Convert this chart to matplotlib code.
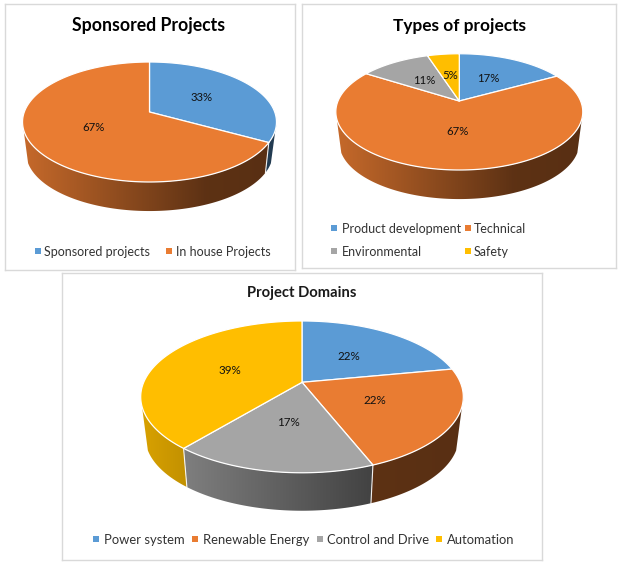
import numpy as np
import matplotlib
matplotlib.use("Agg")
import matplotlib.pyplot as plt
from matplotlib.colors import to_rgb
from matplotlib.patches import PathPatch
from matplotlib.path import Path

W, H = 627, 565
BLUE, ORANGE, GREY, YELLOW = "#5B9BD5", "#E97C32", "#A5A5A5", "#FFBE00"
plt.rcParams["font.family"] = ["Lato", "DejaVu Sans"]

sponsored_names = ["Sponsored projects", "In house Projects"]
sponsored_values = [33, 67]
sponsored_colors = [BLUE, ORANGE]

type_names = ["Product development", "Technical", "Environmental", "Safety"]
type_values = [17, 67, 11, 5]
type_colors = [BLUE, ORANGE, GREY, YELLOW]

domain_names = ["Power system", "Renewable Energy", "Control and Drive", "Automation"]
domain_values = [22, 22, 17, 39]
domain_colors = [BLUE, ORANGE, GREY, YELLOW]


def project(theta, cx, cy, A, B, k, r=1.0):
    """Perspective view of a point on a flat disc; theta runs clockwise from 12 o'clock."""
    u, v = r * np.sin(theta), r * np.cos(theta)
    w = 1 + k * v
    return cx + A * u / w, cy - B * v / w


def rim_image(hex_color, n=400):
    """One-row gradient for a slice's rim: light at the left, dark from about 70% across."""
    f = np.linspace(0, 1, n)
    s = np.interp(f, [0.0, 0.72, 1.0], [0.85, 0.40, 0.38])
    return (np.array(to_rgb(hex_color))[None, None, :] * s[None, :, None]).clip(0, 1)


def draw_pie(ax, values, colors, cx, cy, A, B, k, depth, label_size):
    total = sum(values)
    edges = np.cumsum([0] + list(values)) / total * 2 * np.pi
    taper = 0.972
    half = A / np.sqrt(1 - k * k)
    xlim, ylim = ax.get_xlim(), ax.get_ylim()

    # the rim leaves the top face at its widest points and meets the lower edge further round
    top_turn = np.arccos(-k)
    low_turn = np.arccos(-(k + 0.17))

    # rim: a gradient clipped to the front part of each slice
    for a0, a1, col in zip(edges[:-1], edges[1:], colors):
        if min(a1, 2 * np.pi - top_turn) <= max(a0, top_turn):
            continue
        t_top = np.linspace(max(a0, top_turn), min(a1, 2 * np.pi - top_turn), 200)
        t_low = np.linspace(max(a0, low_turn), min(a1, 2 * np.pi - low_turn), 200)
        xt, yt = project(t_top, cx, cy, A, B, k)
        xb, yb = project(t_low, cx, cy + depth, A * taper, B * taper, k)
        verts = np.c_[np.r_[xt, xb[::-1]], np.r_[yt, yb[::-1]]]
        clip = PathPatch(Path(np.r_[verts, verts[:1]], closed=True), transform=ax.transData,
                         facecolor="none", edgecolor="none")
        ax.add_patch(clip)
        im = ax.imshow(rim_image(col), extent=(cx - half, cx + half, cy + B * 2 + depth, cy - B),
                       aspect="auto", interpolation="bilinear", zorder=2)
        im.set_clip_path(clip)
    ax.set_xlim(xlim)
    ax.set_ylim(ylim)

    # white seams where slices meet on the visible rim
    for a in edges[:-1]:
        if np.cos(a) < -k:
            xa, ya = project(a, cx, cy, A, B, k)
            xb, yb = project(a, cx, cy + depth, A * taper, B * taper, k)
            ax.plot([xa, xb], [ya, yb], color="white", lw=0.8, alpha=0.9, zorder=3)

    # top face
    for a0, a1, col in zip(edges[:-1], edges[1:], colors):
        t = np.linspace(a0, a1, 200)
        x, y = project(t, cx, cy, A, B, k)
        ax.fill(np.r_[cx, x], np.r_[cy, y], facecolor=col, edgecolor="white",
                lw=0.9, joinstyle="round", zorder=4)

    # percentage labels halfway along each slice's mid-angle
    for a0, a1, val in zip(edges[:-1], edges[1:], values):
        lx, ly = project((a0 + a1) / 2, cx, cy, A, B, k, r=0.5)
        ax.text(lx, ly, f"{val}%", ha="center", va="center", fontsize=label_size,
                color="#111111", zorder=5)


def legend_row(ax, names, colors, marks, texts, y, size):
    for name, col, mx, tx in zip(names, colors, marks, texts):
        ax.plot([mx], [y], marker="s", ms=3.8, color=col, mew=0, ls="none", zorder=5)
        ax.text(tx, y, name, ha="left", va="center_baseline", fontsize=size, color="#333333", zorder=5)


def panel(fig, x0, y0, x1, y1):
    ax = fig.add_axes([x0 / W, 1 - y1 / H, (x1 - x0) / W, (y1 - y0) / H])
    ax.set_xlim(x0, x1)
    ax.set_ylim(y1, y0)
    ax.set_xticks([])
    ax.set_yticks([])
    for s in ax.spines.values():
        s.set_color("#D9D9D9")
        s.set_linewidth(1.0)
    return ax


fig = plt.figure(figsize=(W / 100, H / 100), dpi=100, facecolor="white")

# sponsored share
ax1 = panel(fig, 4.7, 4.3, 295.3, 270)
draw_pie(ax1, sponsored_values, sponsored_colors, 149.5, 112, 125.2, 58.33, 1 / 6, 31, 8.2)
ax1.text(149, 26, "Sponsored Projects", ha="center", va="center", fontsize=12.7, fontweight="bold", color="black")
legend_row(ax1, sponsored_names, sponsored_colors, [37.5, 168.7], [44, 176], 251, 9.0)

# project types
ax2 = panel(fig, 302.3, 4.3, 616, 268.3)
draw_pie(ax2, type_values, type_colors, 459.3, 101, 121.3, 56.1, 0.187, 31, 8.2)
ax2.text(459.5, 26, "Types of projects", ha="center", va="center", fontsize=12.4, fontweight="bold", color="black")
legend_row(ax2, type_names[:2], type_colors[:2], [334, 467.7], [341.7, 474], 228, 9.0)
legend_row(ax2, type_names[2:], type_colors[2:], [334, 467.7], [341.7, 474], 251, 9.0)

# project domains
ax3 = panel(fig, 62.3, 273.3, 541.7, 560)
draw_pie(ax3, domain_values, domain_colors, 302, 382.3, 158.3, 73.1, 0.192, 40.5, 8.4)
ax3.text(301.7, 293, "Project Domains", ha="center", va="center", fontsize=10.6, fontweight="bold", color="#1a1a1a")
legend_row(ax3, domain_names, domain_colors, [96.3, 195, 320, 439.3], [104.3, 202.7, 327.3, 447.3], 539, 9.4)

fig.savefig("out.png", dpi=100, facecolor="white")
